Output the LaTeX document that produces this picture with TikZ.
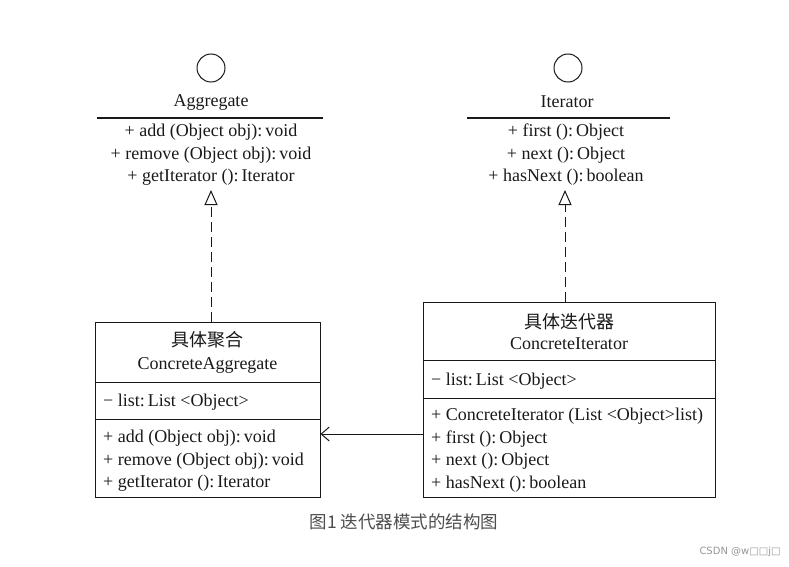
\documentclass[tikz,border=0pt]{standalone}
\usepackage{fontspec}
\setmainfont{Liberation Serif}
\newfontfamily\cjkfont{Noto Sans CJK SC}
\newfontfamily\markfont{DejaVu Sans}
\usetikzlibrary{arrows.meta}

\definecolor{umlink}{RGB}{25,25,25}
\definecolor{capgrey}{RGB}{77,77,77}
\definecolor{markgrey}{RGB}{150,150,150}

\tikzset{
  umltext/.style={font=\fontsize{18}{22.5}\selectfont, inner sep=0pt, text=umlink},
  umltitle/.style={umltext, font=\cjkfont\fontsize{18}{20}\selectfont},
  umlbox/.style={draw=umlink, line width=1pt, inner sep=0pt},
  realize/.style={draw=umlink, line width=1pt, dash pattern=on 10pt off 5pt,
    -{Triangle[open,length=15pt,width=13pt]}},
  assoc/.style={draw=umlink, line width=1pt, -{Straight Barb[length=8pt,width=14pt]}},
}

\begin{document}
\begin{tikzpicture}[x=1pt,y=-1pt]
  \useasboundingbox (0,0) rectangle (789,567);

  % interface Aggregate
  \node[circle, draw=umlink, line width=1pt, minimum size=28pt] (aggcirc) at (211,68) {};
  \node[umltext] (aggname) at (211,103) {Aggregate};
  \draw[umlink, line width=1.1pt] (97,118) -- (323,118);
  \node[umltext, align=center, anchor=north] (aggops) at (211,124)
    {+ add (Object obj):\,void\\+ remove (Object obj):\,void\\+ getIterator ():\,Iterator};
  \coordinate (aggtip) at (211,190);

  % interface Iterator
  \node[circle, draw=umlink, line width=1pt, minimum size=28pt] (itcirc) at (568,68) {};
  \node[umltext] (itname) at (567,102) {Iterator};
  \draw[umlink, line width=1.1pt] (467,118) -- (670,118);
  \node[umltext, align=center, anchor=north] (itops) at (566,124)
    {+ first ():\,Object\\+ next ():\,Object\\+ hasNext ():\,boolean};
  \coordinate (ittip) at (565,190);

  % ConcreteAggregate
  \node[umlbox, minimum width=225pt, minimum height=175pt] (cabox) at (207.5,410) {};
  \draw[umlink, line width=1pt] (cabox.west |- 0,382) -- (cabox.east |- 0,382);
  \draw[umlink, line width=1pt] (cabox.west |- 0,419) -- (cabox.east |- 0,419);
  \node[umltitle] (catitle) at (207.5,340) {具体聚合};
  \node[umltext] (caname) at (207.5,365) {ConcreteAggregate};
  \node[umltext, anchor=west] (caattr) at (103,402) {− list:\,List <Object>};
  \node[umltext, align=left, anchor=north west] (caops) at (103,430)
    {+ add (Object obj):\,void\\+ remove (Object obj):\,void\\+ getIterator ():\,Iterator};

  % ConcreteIterator
  \node[umlbox, minimum width=292pt, minimum height=195pt] (cibox) at (569,399.5) {};
  \draw[umlink, line width=1pt] (cibox.west |- 0,360) -- (cibox.east |- 0,360);
  \draw[umlink, line width=1pt] (cibox.west |- 0,398) -- (cibox.east |- 0,398);
  \node[umltitle] (cititle) at (569,322) {具体迭代器};
  \node[umltext] (ciname) at (569,344) {ConcreteIterator};
  \node[umltext, anchor=west] (ciattr) at (431,381) {− list:\,List <Object>};
  \node[umltext, align=left, anchor=north west] (ciops) at (431,408)
    {+ ConcreteIterator (List <Object>list)\\+ first ():\,Object\\+ next ():\,Object\\+ hasNext ():\,boolean};

  % relations
  \draw[realize] (cabox.north -| aggtip) -- (aggtip);
  \draw[realize] (cibox.north -| ittip) -- (ittip);
  \draw[assoc] (cibox.west |- 0,434) -- (cabox.east |- 0,434);

  % caption
  \node[font=\cjkfont\fontsize{17.5}{20}\selectfont, text=capgrey] (caption) at (404,522)
    {图1 迭代器模式的结构图};
  \node[font=\markfont\fontsize{10}{12}\selectfont, text=markgrey] (mark) at (740,552)
    {CSDN @w□□j□};
\end{tikzpicture}
\end{document}
